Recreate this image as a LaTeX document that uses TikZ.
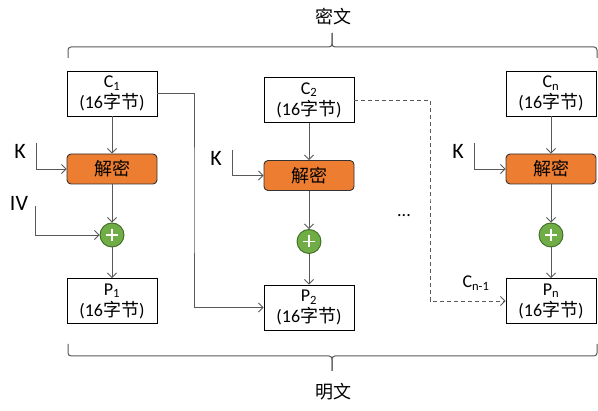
\documentclass[tikz,border=0pt]{standalone}
\usepackage{fontspec}
\setmainfont{Carlito}
\newfontfamily\cjk{Noto Sans CJK SC}
\usetikzlibrary{arrows.meta,calc}
\newcommand{\zh}[1]{{\cjk #1}}
\definecolor{lineg}{HTML}{595959}
\definecolor{orng}{HTML}{ED7D31}
\definecolor{grn}{HTML}{70AD47}
\definecolor{grnd}{HTML}{3E6B25}
\tikzset{
  box/.style={draw=black, line width=0.9pt, minimum width=90pt, minimum height=45pt, inner sep=0pt, align=center, font=\fontsize{18}{21}\selectfont},
  dec/.style={draw=black!80, line width=0.9pt, fill=orng, rounded corners=4pt, minimum width=90pt, minimum height=30pt, inner sep=0pt, font=\fontsize{18}{21}\selectfont},
  xorc/.style={circle, draw=grnd, line width=0.9pt, fill=grn, minimum size=24pt, inner sep=0pt},
  conn/.style={draw=lineg, line width=0.9pt, -{Straight Barb[length=4.5pt,width=9pt]}},
  brc/.style={draw=lineg, line width=1pt, rounded corners=3pt},
  lbl/.style={font=\fontsize{22}{24}\selectfont, inner sep=0pt},
  ttl/.style={font=\fontsize{18}{20}\selectfont, inner sep=0pt},
}
\newcommand{\plusmark}[1]{\draw[white, line width=1.8pt] ($(#1)+(-6,0)$) -- ($(#1)+(6,0)$) ($(#1)+(0,-6)$) -- ($(#1)+(0,6)$);}
\begin{document}
\begin{tikzpicture}[x=1pt,y=-1pt]
\useasboundingbox (0,0) rectangle (598,411);
% braces
\draw[brc] (68,58) -- (68,47) -- (332,47) -- (332,33);
\draw[brc] (332,33) -- (332,47) -- (597,47) -- (597,58);
\draw[brc] (68,344) -- (68,356) -- (332,356) -- (332,371);
\draw[brc] (332,371) -- (332,356) -- (597,356) -- (597,344);
\node[ttl] (ct) at (333,17) {\zh{密文}};
\node[ttl] (pt) at (333,392) {\zh{明文}};
% column 1
\node[box] (c1) at (112,93.5) {C\textsubscript{1}\\(16\zh{字节})};
\node[dec] (d1) at (112,169) {\zh{解密}};
\node[xorc] (x1) at (112,235) {};
\node[box] (p1) at (112,301) {P\textsubscript{1}\\(16\zh{字节})};
% column 2
\node[box] (c2) at (309,100) {C\textsubscript{2}\\(16\zh{字节})};
\node[dec] (d2) at (309,175.5) {\zh{解密}};
\node[xorc] (x2) at (309,241.5) {};
\node[box] (p2) at (309,307.5) {P\textsubscript{2}\\(16\zh{字节})};
% column n
\node[box] (cn) at (551,93.5) {C\textsubscript{n}\\(16\zh{字节})};
\node[dec] (dn) at (551,169) {\zh{解密}};
\node[xorc] (xn) at (551,235) {};
\node[box] (pn) at (551,301) {P\textsubscript{n}\\(16\zh{字节})};
\plusmark{x1}
\plusmark{x2}
\plusmark{xn}
% labels
\node[lbl] (k1) at (20,151) {K};
\node[lbl] (k2) at (216,158) {K};
\node[lbl] (kn) at (458,151) {K};
\node[lbl] (iv) at (19,203) {IV};
\node[font=\fontsize{18}{20}\selectfont, inner sep=0pt] (dots) at (404,216) {...};
\node[font=\fontsize{18}{20}\selectfont, inner sep=0pt] (cnm) at (476,283) {C\textsubscript{n-1}};
% key / iv inputs
\coordinate (k1s) at (36,143);
\coordinate (k2s) at (232,150);
\coordinate (kns) at (474,143);
\coordinate (ivs) at (35,206);
\draw[conn] (k1s) |- (d1.west);
\draw[conn] (k2s) |- (d2.west);
\draw[conn] (kns) |- (dn.west);
\draw[conn] (ivs) |- (x1.west);
% vertical flows
\draw[conn] (c1.south) -- (d1.north);
\draw[conn] (d1.south) -- (x1.north);
\draw[conn] (x1.south) -- (p1.north);
\draw[conn] (c2.south) -- (d2.north);
\draw[conn] (d2.south) -- (x2.north);
\draw[conn] (x2.south) -- (p2.north);
\draw[conn] (cn.south) -- (dn.north);
\draw[conn] (dn.south) -- (xn.north);
\draw[conn] (xn.south) -- (pn.north);
% chaining
\coordinate (j1) at (194,200);
\coordinate (j2) at (430,200);
\draw[conn] (c1.east) -| (j1) |- (p2.west);
\draw[conn, dashed, dash pattern=on 4pt off 3pt] (c2.east) -| (j2) |- (pn.west);
\end{tikzpicture}
\end{document}
